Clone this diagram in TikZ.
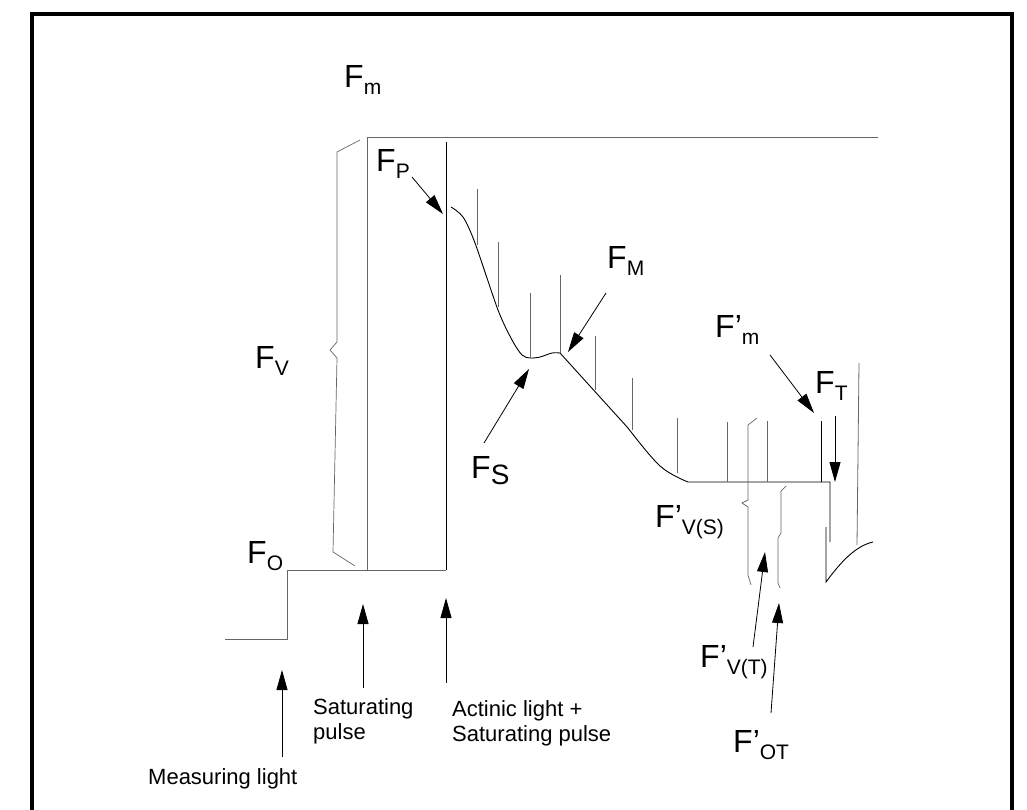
\documentclass[tikz,border=0pt]{standalone}
\usepackage{fontspec}
\setmainfont{Liberation Sans}
\usetikzlibrary{arrows.meta}
\newcommand{\bigF}[2]{{\fontsize{32}{32}\selectfont F#1}\raisebox{-7pt}{\fontsize{21}{21}\selectfont #2}}
\begin{document}
\begin{tikzpicture}[x=1pt,y=-1pt,
  ln/.style={line width=0.8pt, draw=black!60},
  dk/.style={line width=0.9pt, draw=black},
  arr/.style={line width=0.8pt, draw=black, -{Triangle[length=20pt,width=11pt]}},
  lab/.style={inner sep=0pt, anchor=base west},
  txt/.style={inner sep=0pt, anchor=base west, font=\fontsize{22}{26}\selectfont}]
\useasboundingbox (0,0) rectangle (1027,810);
% frame
\draw[line width=3.5pt] (32,830) -- (32,14) -- (1012,14) -- (1012,830);
% trace
\draw[ln] (225,639) -- (287,639) -- (287,570) -- (446,570);
\draw[ln] (367,570) -- (367,137) -- (878,137);
\draw[dk] (446,570) -- (446,142);
\draw[ln, line width=0.7pt] (360,140) -- (337,152) -- (337,342) -- (330,350) -- (337,358) -- (333,552) -- (355,566);
\draw[dk] plot[smooth, tension=0.5] coordinates {(451,207) (463,217) (475,243) (498,310) (512,340) (522,355) (530,358) (540,357) (552,353) (560,353)}
  -- plot[smooth, tension=0.6] coordinates {(628,428) (660,466) (688,482)} -- (830,482) -- (830,542);
% ticks
\foreach \x/\a/\b in {477/189/245, 498/242/307, 530/293/358, 560/275/353, 595/336/390, 632/378/430, 677/418/473, 727/422/482, 767/421/482}
  \draw[ln] (\x,\a) -- (\x,\b);
\draw[dk] (821,421) -- (821,482);
% braces
\draw[ln, line width=0.7pt] (757,418) -- (748,425) -- (748,500) -- (742,503) -- (748,507) -- (748,575) -- (751,585);
\draw[ln, line width=0.7pt] (786,486) -- (781,491) -- (781,533) -- (778,538) -- (778,583) -- (780,588);
% end part
\draw[dk] (826,527) -- (826,582) .. controls (840,563) and (855,546) .. (873,542);
\draw[ln] (859,363) -- (857,545);
% labels
\node[lab] (Fm) at (344,88) {\bigF{}{m}};
\node[lab] (FP) at (376,172) {\bigF{}{P}};
\node[lab] (FV) at (255,368) {\bigF{}{V}};
\node[lab] (FM) at (607,268) {\bigF{}{M}};
\node[lab] (FS) at (471,478) {{\fontsize{32}{32}\selectfont F}\raisebox{-6pt}{\fontsize{28}{28}\selectfont S}};
\node[lab] (Fmp) at (715,337) {\bigF{’}{m}};
\node[lab] (FT) at (815,393) {\bigF{}{T}};
\node[lab] (FVS) at (655,527) {\bigF{’}{V(S)}};
\node[lab] (FVT) at (700,667) {\bigF{’}{V(T)}};
\node[lab] (FOT) at (733,752) {\bigF{’}{OT}};
\node[lab] (FO) at (247,563) {\bigF{}{O}};
\node[txt] (ml) at (148,784) {Measuring light};
\node[txt] (sp1) at (313,714) {Saturating};
\node[txt] (sp2) at (313,739) {pulse};
\node[txt] (al1) at (452,716) {Actinic light +};
\node[txt] (al2) at (452,741) {Saturating pulse};
% arrow ends
\coordinate (a1s) at (412,177); \coordinate (a1e) at (443,214);
\coordinate (a2s) at (606,293); \coordinate (a2e) at (568,352);
\coordinate (a3s) at (484,443); \coordinate (a3e) at (529,369);
\coordinate (a4s) at (770,355); \coordinate (a4e) at (814,413);
\coordinate (a5s) at (835,416); \coordinate (a5e) at (835,482);
\coordinate (a6s) at (753,647); \coordinate (a6e) at (765,552);
\coordinate (a7s) at (771,713); \coordinate (a7e) at (779,603);
\coordinate (a8s) at (282,757); \coordinate (a8e) at (282,670);
\coordinate (a9s) at (363,688); \coordinate (a9e) at (363,604);
\coordinate (a10s) at (446,683); \coordinate (a10e) at (446,598);
\foreach \i in {1,...,10} \draw[arr] (a\i s) -- (a\i e);
\end{tikzpicture}
\end{document}
